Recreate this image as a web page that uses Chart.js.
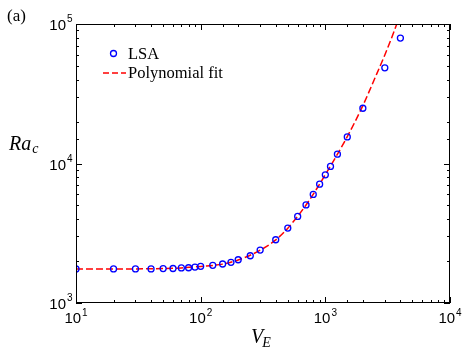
<!DOCTYPE html>
<html><head><meta charset="utf-8">
<script src="https://cdn.jsdelivr.net/npm/chart.js@4"></script>
<style>html,body{margin:0;padding:0;background:#fff}#wrap{width:474px;height:355px;position:relative}</style>
</head><body><div id="wrap"><canvas id="c" width="474" height="355"></canvas></div>
<script>
// ---- data ----
const veValues = [10,20,30,40,50,60,70,80,90,100,125,150,175,200,250,300,400,500,600,700,800,900,1000,1100,1250,1500,2000,3000,4000];
const lsaRa    = [1753,1755,1755,1756,1765,1768,1785,1790,1808,1831,1862,1903,1956,2042,2182,2396,2840,3444,4176,5047,5998,7113,8293,9527,11670,15500,24900,48500,79300];
const fitVe    = [10,20,30,50,70,100,150,200,300,400,500,700,1000,1500,2000,2500,3000,3500,4000];
const fitRa    = [1752,1754,1756,1765,1785,1828,1900,2035,2390,2835,3440,5040,8320,15600,26000,41000,60000,85000,118000];
const seriesNames = ['LSA','Polynomial fit'];
const tickBase = '10';
const xTickExps = ['1','2','3','4'];   // exponents for 10^1..10^4
const yTickExps = ['3','4','5'];       // exponents for 10^3..10^5
const panelLabel = '(a)';
const xTitle = ['V','E'];   // main, subscript
const yTitle = ['Ra','c'];

const BLUE = '#0000ff', RED = '#ff0000';
const SANS = '"Liberation Sans", Arial, sans-serif';
const SERIF = '"Liberation Serif", "Times New Roman", serif';

function majorExp(v){
  const e = Math.log10(v); const r = Math.round(e);
  return Math.abs(e - r) < 1e-9 ? r : null;
}

const framePlugin = {
  id: 'frame',
  afterDatasetsDraw(chart){
    const {ctx, chartArea:a, scales} = chart;
    const sx = scales.x, sy = scales.y;
    ctx.save();
    ctx.strokeStyle = '#000';
    ctx.lineWidth = 1;
    ctx.strokeRect(Math.round(a.left)+0.5, Math.round(a.top)+0.5, Math.round(a.right-a.left)-1, Math.round(a.bottom-a.top)-1);
    ctx.beginPath();
    sx.ticks.forEach(t => {
      const L = majorExp(t.value) !== null ? 6 : 3;
      const px = Math.round(sx.getPixelForValue(t.value)) + 0.5;
      ctx.moveTo(px, a.bottom); ctx.lineTo(px, a.bottom - L);
      ctx.moveTo(px, a.top); ctx.lineTo(px, a.top + L);
    });
    sy.ticks.forEach(t => {
      const L = majorExp(t.value) !== null ? 6 : 3;
      const py = Math.round(sy.getPixelForValue(t.value)) + 0.5;
      ctx.moveTo(a.left, py); ctx.lineTo(a.left + L, py);
      ctx.moveTo(a.right, py); ctx.lineTo(a.right - L, py);
    });
    ctx.stroke();

    // tick labels 10^n with raised exponents
    ctx.fillStyle = '#000';
    ctx.textBaseline = 'alphabetic'; ctx.textAlign = 'left';
    sx.ticks.forEach(t => {
      const e = majorExp(t.value); if (e === null) return;
      const ex = xTickExps[e - 1]; if (!ex) return;
      const px = sx.getPixelForValue(t.value);
      ctx.font = '15px ' + SANS; const wT = ctx.measureText(tickBase).width;
      ctx.font = '10px ' + SANS; const wE = ctx.measureText(ex).width;
      const x0 = px - (wT + 1 + wE) / 2;
      ctx.font = '15px ' + SANS; ctx.fillText(tickBase, x0, a.bottom + 20);
      ctx.font = '10px ' + SANS; ctx.fillText(ex, x0 + wT + 1, a.bottom + 13);
    });
    sy.ticks.forEach(t => {
      const e = majorExp(t.value); if (e === null) return;
      const ex = yTickExps[e - 3]; if (!ex) return;
      const py = sy.getPixelForValue(t.value);
      ctx.font = '15px ' + SANS; const wT = ctx.measureText(tickBase).width;
      const xr = a.left - 10;
      ctx.fillText(tickBase, xr - wT, py + 6);
      ctx.font = '10px ' + SANS; ctx.fillText(ex, xr + 1, py - 2);
    });

    // legend (inside plot, top-left)
    const d0 = chart.data.datasets[0], d1 = chart.data.datasets[1];
    const lx = a.left, ly = a.top;
    ctx.strokeStyle = d0.borderColor; ctx.lineWidth = d0.borderWidth;
    ctx.beginPath(); ctx.arc(lx + 37.5, ly + 29.5, 3, 0, Math.PI*2); ctx.stroke();
    ctx.strokeStyle = d1.borderColor; ctx.lineWidth = 1.5; ctx.setLineDash([6,3]);
    ctx.beginPath(); ctx.moveTo(lx + 27, ly + 49); ctx.lineTo(lx + 50, ly + 49); ctx.stroke();
    ctx.setLineDash([]);
    ctx.fillStyle = '#000';
    ctx.font = '16.5px ' + SERIF;
    ctx.fillText(d0.label, lx + 52, ly + 34.5);
    ctx.fillText(d1.label, lx + 52, ly + 54);

    // panel label and axis titles
    ctx.font = '17px ' + SERIF;
    ctx.fillText(panelLabel, 7, 21);
    ctx.font = 'italic 20px ' + SERIF;
    ctx.fillText(yTitle[0], 9, 150);
    const raW = ctx.measureText(yTitle[0]).width;
    ctx.font = 'italic 14px ' + SERIF;
    ctx.fillText(yTitle[1], 9 + raW + 1, 153);
    ctx.font = 'italic 20px ' + SERIF;
    ctx.fillText(xTitle[0], 251, 343);
    const vW = ctx.measureText(xTitle[0]).width;
    ctx.font = 'italic 14px ' + SERIF;
    ctx.fillText(xTitle[1], 251 + vW - 1, 347);
    ctx.restore();
  }
};

new Chart(document.getElementById('c'), {
  type: 'line',
  data: {
    datasets: [
      {
        label: seriesNames[0],
        data: veValues.map((v,i) => ({x:v, y:lsaRa[i]})),
        showLine: false,
        pointStyle: 'circle',
        pointRadius: 3,
        pointBorderWidth: 1.3,
        borderWidth: 1.3,
        borderColor: BLUE,
        pointBorderColor: BLUE,
        backgroundColor: 'rgba(0,0,0,0)',
        pointBackgroundColor: 'rgba(0,0,0,0)',
        order: 1
      },
      {
        label: seriesNames[1],
        data: fitVe.map((v,i) => ({x:v, y:fitRa[i]})),
        borderColor: RED,
        borderWidth: 1.5,
        borderDash: [7,3],
        pointRadius: 0,
        fill: false,
        cubicInterpolationMode: 'monotone',
        order: 2
      }
    ]
  },
  options: {
    responsive: false,
    animation: false,
    devicePixelRatio: 1,
    layout: { padding: { top: 24, right: 24, left: 0, bottom: 0 } },
    plugins: { legend: { display: false }, tooltip: { enabled: false } },
    scales: {
      x: {
        type: 'logarithmic', min: 10, max: 10000,
        grid: { display: false }, border: { display: false },
        ticks: { display: false, autoSkip: false },
        afterFit: s => { s.height = 52; }
      },
      y: {
        type: 'logarithmic', min: 1000, max: 100000,
        grid: { display: false }, border: { display: false },
        ticks: { display: false, autoSkip: false },
        afterFit: s => { s.width = 76; }
      }
    }
  },
  plugins: [framePlugin]
});
</script>
</body></html>
